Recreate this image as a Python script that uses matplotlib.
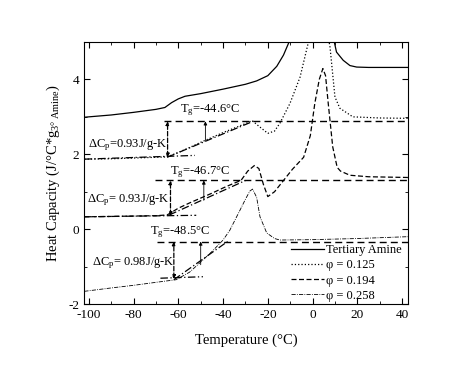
import matplotlib
matplotlib.use("Agg")
import matplotlib.pyplot as plt
from matplotlib.ticker import MultipleLocator

plt.rcParams["font.family"] = "Liberation Serif"
plt.rcParams["mathtext.fontset"] = "custom"
plt.rcParams["mathtext.rm"] = "Liberation Serif"
plt.rcParams["mathtext.it"] = "Liberation Serif:italic"
plt.rcParams["axes.unicode_minus"] = False

# Tertiary amine (solid)
t_amine = [-102, -90, -80, -70, -66, -63, -60, -57, -50, -40, -30, -25, -20, -16, -13, -10.5, -8,
           8, 9.7, 10.7, 13.7, 16.7, 19.7, 25, 43]
cp_amine = [2.99, 3.05, 3.12, 3.2, 3.25, 3.38, 3.48, 3.55, 3.62, 3.74, 3.87, 3.96, 4.1, 4.35, 4.65, 5.0, 5.6,
            5.6, 5.0, 4.73, 4.51, 4.37, 4.33, 4.32, 4.32]

# phi = 0.125 (dotted)
t_125 = [-102, -90, -80, -70, -65, -60, -55, -50, -45, -40, -35, -30, -27, -24, -20, -17, -14.6,
         -10.1, -5.6, -2, 0, 6, 7.8, 10, 12.2, 18, 30, 43]
cp_125 = [1.87, 1.88, 1.9, 1.92, 1.93, 2.05, 2.18, 2.32, 2.45, 2.58, 2.7, 2.82, 2.9, 2.75, 2.56, 2.62, 2.83,
          3.36, 4.06, 4.96, 5.5, 5.5, 4.86, 3.53, 3.23, 3.0, 2.97, 2.96]

# phi = 0.194 (dashed)
t_194 = [-102, -90, -80, -70, -65, -60, -55, -50, -45, -40, -35, -32, -29, -26, -24, -22, -20, -17, -13,
         -9, -4, -1, 1, 3, 4.6, 5.8, 7, 9, 11, 12.5, 16.7, 25, 43]
cp_194 = [0.33, 0.34, 0.35, 0.36, 0.38, 0.56, 0.7, 0.83, 0.96, 1.1, 1.23, 1.3, 1.55, 1.7, 1.62, 1.2, 0.87,
          1.0, 1.3, 1.6, 1.92, 2.5, 3.36, 4.0, 4.29, 4.1, 3.36, 2.2, 1.65, 1.55, 1.44, 1.4, 1.38]

# phi = 0.258 (dash-dot)
t_258 = [-102, -90, -80, -70, -61, -55, -50.4, -45, -40, -37, -32.5, -30, -28, -26.8, -25, -23.5, -20.5,
         -17, -14.6, 0, 20, 43]
cp_258 = [-1.66, -1.57, -1.5, -1.42, -1.35, -1.15, -0.9, -0.6, -0.29, -0.03, 0.5, 0.8, 1.02, 1.07, 0.85,
          0.33, -0.1, -0.25, -0.29, -0.28, -0.25, -0.2]

# Tg construction lines per sample: onset level, vertical position, second arrow
tg_levels = [2.88, 1.3, -0.33]
tg_start = [-66.5, -70.5, -69.6]
dcp_x = [-64.8, -63.5, -62.0]
dcp_low = [1.92, 0.35, -1.33]
arrow_x = [-47.9, -48.6, -50.0]
arrow_low = [2.37, 0.77, -0.95]
base_lines = [([-102, -52.6], [1.87, 1.97]), ([-102, -52], [0.33, 0.37]), ([-68, -49], [-1.31, -1.27])]
rise_lines = [([-65, -26.6], [1.92, 2.88]), ([-64, -30], [0.38, 1.3]), ([-62, -38], [-1.35, -0.33])]

tg_labels = ["T$_\\mathrm{g}$=-44.6°C", "T$_\\mathrm{g}$=-46.7°C", "T$_\\mathrm{g}$=-48.5°C"]
tg_pos = [(-59.3, 3.17), (-63.8, 1.52), (-72.7, -0.08)]
dcp_labels = ["ΔC$_\\mathrm{p}$=0.93J/g-K", "ΔC$_\\mathrm{p}$= 0.93J/g-K", "ΔC$_\\mathrm{p}$= 0.98J/g-K"]
dcp_pos = [(-100.4, 2.24), (-100.9, 0.77), (-98.7, -0.91)]

fig = plt.figure(figsize=(4.74, 3.65), dpi=100)
ax = fig.add_axes([0.177, 0.167, 0.684, 0.718])

ax.plot(t_amine, cp_amine, "k-", lw=0.9, label="Tertiary Amine")
ax.plot(t_125, cp_125, color="k", ls=":", lw=0.9, label="φ = 0.125")
ax.plot(t_194, cp_194, color="k", ls=(0, (4, 2)), lw=0.9, label="φ = 0.194")
ax.plot(t_258, cp_258, color="k", ls=(0, (5, 1.5, 1, 1.5)), lw=0.6, label="φ = 0.258")

for i in range(3):
    ax.plot([tg_start[i], 43], [tg_levels[i]] * 2, color="k", ls=(0, (5, 3)), lw=1.0)
    ax.plot(*base_lines[i], color="k", ls=(0, (6, 2, 1, 2)), lw=0.9)
    ax.plot(*rise_lines[i], color="k", ls=(0, (6, 2, 1, 2)), lw=0.9)
    ax.annotate("", xy=(dcp_x[i], tg_levels[i]), xytext=(dcp_x[i], dcp_low[i]),
                arrowprops=dict(arrowstyle="<|-|>", ls="--", lw=0.9, color="k",
                                mutation_scale=5, shrinkA=0, shrinkB=0))
    ax.annotate("", xy=(arrow_x[i], tg_levels[i]), xytext=(arrow_x[i], arrow_low[i]),
                arrowprops=dict(arrowstyle="-|>", lw=0.6, color="k",
                                mutation_scale=5, shrinkA=0, shrinkB=0))
    ax.text(*tg_pos[i], tg_labels[i], fontsize=9, va="center", ha="left")
    ax.text(*dcp_pos[i], dcp_labels[i], fontsize=9, va="center", ha="left")

ax.set_xlim(-102.2, 42.7)
ax.set_ylim(-2, 5)
ax.xaxis.set_major_locator(MultipleLocator(20))
ax.xaxis.set_minor_locator(MultipleLocator(10))
ax.yaxis.set_major_locator(MultipleLocator(2))
ax.yaxis.set_minor_locator(MultipleLocator(1))
ax.tick_params(which="both", direction="in", top=True, right=True, labelsize=9.5)
ax.tick_params(which="major", length=4)
ax.tick_params(which="minor", length=2.5)
ax.set_xlabel("Temperature (°C)", fontsize=10.5, labelpad=9)
ax.set_ylabel("Heat Capacity (J/°C*g$_\\mathrm{3°\\ Amine}$)", fontsize=10.5)

ax.legend(loc="lower right", bbox_to_anchor=(1.0, -0.015), frameon=False, fontsize=9,
          handlelength=2.6, labelspacing=0.25, handletextpad=0.2, borderaxespad=0.1)

fig.savefig("out.png", dpi=100)
